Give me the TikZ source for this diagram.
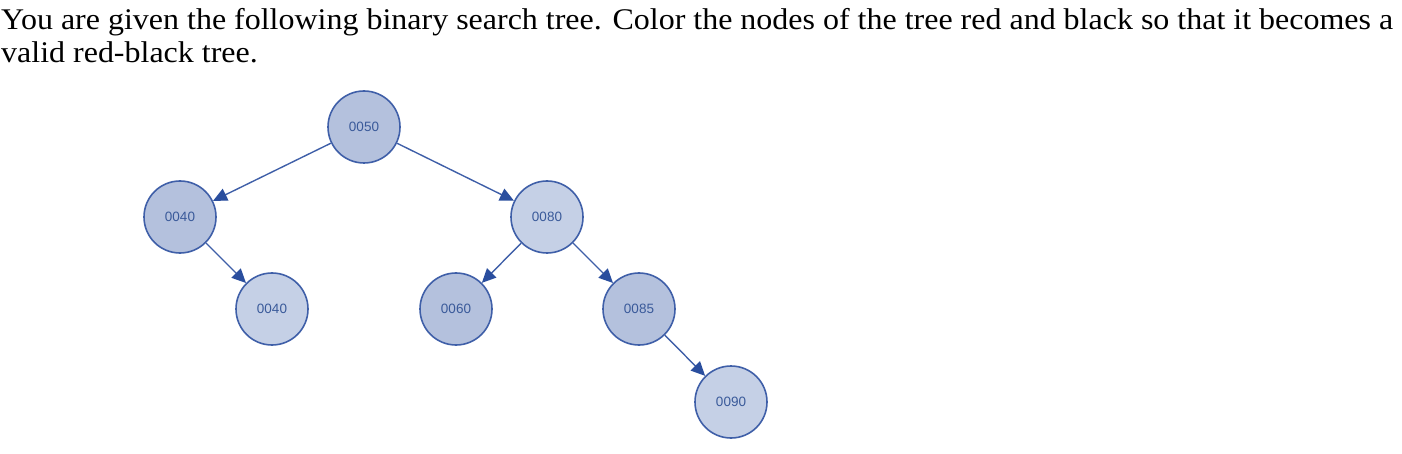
\documentclass[tikz,border=0pt]{standalone}
\usepackage{fontspec}
\setmainfont{Liberation Serif}
\newfontfamily\nodefont{Liberation Sans}
\usetikzlibrary{arrows.meta}
\definecolor{darkfill}{HTML}{B4C1DD}
\definecolor{lightfill}{HTML}{C5D0E6}
\definecolor{edgeblue}{HTML}{3F5FA8}
\definecolor{tipblue}{HTML}{2A4E9E}
\definecolor{txtblue}{HTML}{3A5A9A}
\begin{document}
\begin{tikzpicture}[x=1pt,y=-1pt,
  tnode/.style={circle,draw=edgeblue,line width=1.6pt,minimum size=72pt,inner sep=0pt,font=\nodefont\fontsize{13.5}{13.5}\selectfont,text=txtblue},
  dk/.style={tnode,fill=darkfill},
  lt/.style={tnode,fill=lightfill},
  txt/.style={anchor=base west,inner sep=0pt,font=\fontsize{30}{33}\selectfont},
  conn/.style={draw=edgeblue,line width=1.4pt,-{Triangle[length=14pt,width=13pt,color=tipblue]}}]
\useasboundingbox (0,0) rectangle (1402,454);
\node[txt] (l1) at (1,30) {\scalebox{1.066}[1]{You are given the following binary search tree. Color the nodes of the tree red and black so that it becomes a}};
\node[txt] (l2) at (1,63) {\scalebox{1.066}[1]{valid red-black tree.}};
\node[dk] (n50) at (364,127) {0050};
\node[dk] (n40) at (180,217) {0040};
\node[lt] (n40b) at (272,309) {0040};
\node[lt] (n80) at (547,217) {0080};
\node[dk] (n60) at (456,309) {0060};
\node[dk] (n85) at (639,309) {0085};
\node[lt] (n90) at (731,402) {0090};
\draw[conn] (n50) -- (n40);
\draw[conn] (n50) -- (n80);
\draw[conn] (n40) -- (n40b);
\draw[conn] (n80) -- (n60);
\draw[conn] (n80) -- (n85);
\draw[conn] (n85) -- (n90);
\end{tikzpicture}
\end{document}
